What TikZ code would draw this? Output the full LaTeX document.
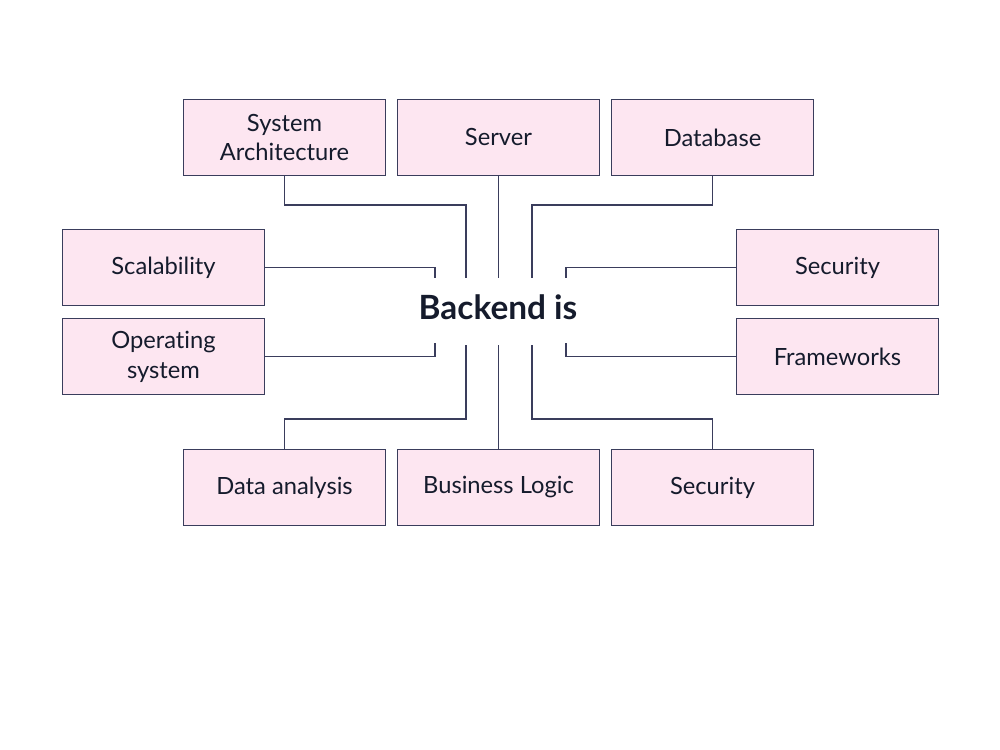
\documentclass[tikz,border=0pt]{standalone}
\usepackage{fontspec}
\setmainfont{Lato}[Ligatures=NoCommon]
\usetikzlibrary{positioning}

\definecolor{boxfill}{HTML}{FDE6F1}
\definecolor{boxline}{HTML}{3A3D5C}
\definecolor{inktext}{HTML}{151B2C}

\begin{document}
\begin{tikzpicture}[%
  x=0.02cm, y=-0.02cm,
  topic/.style={draw=boxline, fill=boxfill, line width=0.9pt,
    minimum width=4.04cm, minimum height=1.52cm, align=center,
    text=inktext, font=\fontsize{13.5}{17}\selectfont},
  link/.style={draw=boxline, line width=0.9pt},
]

  \useasboundingbox (0,0) rectangle (1000,750);

  \node[font=\bfseries\fontsize{19}{22}\selectfont, text=inktext] (core) at (498,307) {Backend is};

  \node[topic] (arch)   at (284.5,137.5) {System\\Architecture};
  \node[topic] (server) at (498.5,137.5) {Server};
  \node[topic] (db)     at (712.5,137.5) {Database};

  \node[topic] (scale) at (163.5,267.5) {Scalability};
  \node[topic] (os)    at (163.5,356.5) {Operating\\system};

  \node[topic] (secure) at (837.5,267.5) {Security};
  \node[topic] (frame)  at (837.5,356.5) {Frameworks};

  \node[topic] (data)  at (284.5,487.5) {Data analysis};
  \node[topic] (logic) at (498.5,487.5) {Business Logic};
  \node[topic] (guard) at (712.5,487.5) {Security};

  \coordinate (archend)   at (466,278);
  \coordinate (serverend) at (498.5,278);
  \coordinate (dbend)     at (532,278);
  \coordinate (scaleend)  at (435,278);
  \coordinate (osend)     at (435,343);
  \coordinate (secureend) at (566,278);
  \coordinate (frameend)  at (566,343);
  \coordinate (dataend)   at (466,345);
  \coordinate (logicend)  at (498.5,345);
  \coordinate (guardend)  at (532,345);

  \draw[link] (arch.south) -- ++(0,29) -| (archend);
  \draw[link] (server.south) -- (serverend);
  \draw[link] (db.south) -- ++(0,29) -| (dbend);

  \draw[link] (scale.east) -| (scaleend);
  \draw[link] (os.east) -| (osend);
  \draw[link] (secure.west) -| (secureend);
  \draw[link] (frame.west) -| (frameend);

  \draw[link] (data.north) -- ++(0,-30) -| (dataend);
  \draw[link] (logic.north) -- (logicend);
  \draw[link] (guard.north) -- ++(0,-30) -| (guardend);

\end{tikzpicture}
\end{document}
